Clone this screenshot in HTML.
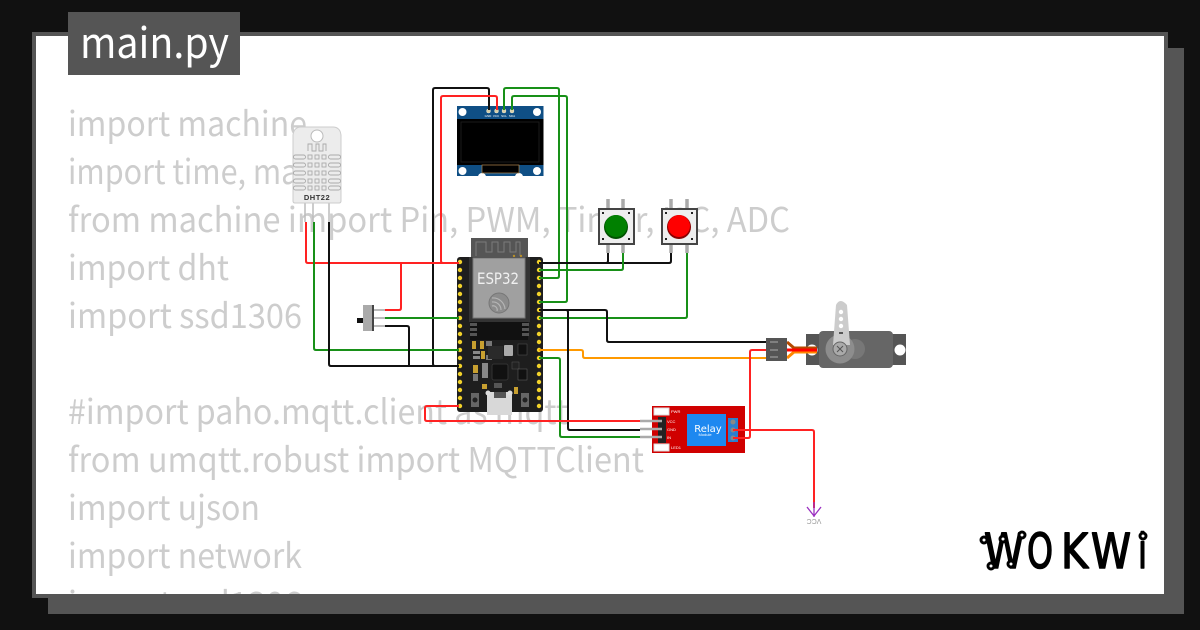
<!DOCTYPE html>
<html><head><meta charset="utf-8"><style>
html,body{margin:0;padding:0;background:#111;width:1200px;height:630px;overflow:hidden}
svg{display:block}
.c{font-family:"Noto Sans CJK JP","Liberation Sans",sans-serif;font-size:34px;fill:#cdcdcd}
.w{fill:none;stroke-width:2;stroke-linejoin:round}
</style></head><body>
<svg width="1200" height="630" viewBox="0 0 1200 630" xmlns="http://www.w3.org/2000/svg">
<defs><clipPath id="clip"><rect x="36" y="36" width="1128" height="558"/></clipPath></defs>
<rect width="1200" height="630" fill="#111"/>
<rect x="48" y="48" width="1136" height="566" fill="#555"/>
<rect x="32" y="32" width="1136" height="566" fill="#555"/>
<rect x="36" y="36" width="1128" height="558" fill="#fff"/>
<rect x="68" y="12" width="172" height="63" fill="#555"/>
<text x="80" y="58" font-family="'Noto Sans CJK JP','Liberation Sans',sans-serif" font-size="42" fill="#fff" textLength="149" lengthAdjust="spacingAndGlyphs">main.py</text>
<g clip-path="url(#clip)" class="c">
<text class="c" x="68" y="136" textLength="239" lengthAdjust="spacingAndGlyphs">import machine</text>
<text class="c" x="68" y="184" textLength="260" lengthAdjust="spacingAndGlyphs">import time, math</text>
<text class="c" x="68" y="232" textLength="722" lengthAdjust="spacingAndGlyphs">from machine import Pin, PWM, Timer, I2C, ADC</text>
<text class="c" x="68" y="280" textLength="161" lengthAdjust="spacingAndGlyphs">import dht</text>
<text class="c" x="68" y="328" textLength="234" lengthAdjust="spacingAndGlyphs">import ssd1306</text>
<text class="c" x="68" y="424" textLength="500" lengthAdjust="spacingAndGlyphs">#import paho.mqtt.client as mqtt</text>
<text class="c" x="68" y="472" textLength="576" lengthAdjust="spacingAndGlyphs">from umqtt.robust import MQTTClient</text>
<text class="c" x="68" y="520" textLength="192" lengthAdjust="spacingAndGlyphs">import ujson</text>
<text class="c" x="68" y="568" textLength="234" lengthAdjust="spacingAndGlyphs">import network</text>
<text class="c" x="68" y="616" textLength="234" lengthAdjust="spacingAndGlyphs">import ssd1306</text>
</g>

<!-- DHT22 -->
<g>
<path d="M305 203v19M313 203v19M329 203v19" stroke="#bbb" stroke-width="1.500" fill="none"/>
<path d="M301 127h32q7 0 8 8v66q0 2-2 2h-44q-2 0-2-2v-66q1-8 8-8z" fill="#ececec" stroke="#ccc"/>
<circle cx="317" cy="136" r="6" fill="#fff" stroke="#bbb"/>
<g fill="none" stroke="#aaa" stroke-width=".9">
<path d="M308 151v-7h4v7h4v-7h3v7h4v-7h3v7"/>
<rect x="293.500" y="155" width="12" height="4" rx="2"/><rect x="293.500" y="163" width="12" height="4" rx="2"/><rect x="293.500" y="171" width="12" height="4" rx="2"/><rect x="293.500" y="179" width="12" height="4" rx="2"/><rect x="293.500" y="186" width="12" height="4" rx="2"/>
<rect x="328.500" y="155" width="12" height="4" rx="2"/><rect x="328.500" y="163" width="12" height="4" rx="2"/><rect x="328.500" y="171" width="12" height="4" rx="2"/><rect x="328.500" y="179" width="12" height="4" rx="2"/><rect x="328.500" y="186" width="12" height="4" rx="2"/>
<rect x="308" y="155" width="4" height="4"/><rect x="315" y="155" width="4" height="4"/><rect x="322" y="155" width="4" height="4"/>
<rect x="308" y="163" width="4" height="4"/><rect x="315" y="163" width="4" height="4"/><rect x="322" y="163" width="4" height="4"/>
<rect x="308" y="171" width="4" height="4"/><rect x="315" y="171" width="4" height="4"/><rect x="322" y="171" width="4" height="4"/>
<rect x="308" y="179" width="4" height="4"/><rect x="315" y="179" width="4" height="4"/><rect x="322" y="179" width="4" height="4"/>
<rect x="308" y="186" width="4" height="4"/><rect x="315" y="186" width="4" height="4"/><rect x="322" y="186" width="4" height="4"/>
</g>
<text x="317" y="200" font-family="'Liberation Sans',sans-serif" font-size="7.500" font-weight="bold" fill="#333" text-anchor="middle" letter-spacing=".5">DHT22</text>
</g>

<!-- OLED -->
<g>
<rect x="457" y="106" width="86.500" height="70" fill="#0f4f85"/>
<rect x="457" y="119" width="86.500" height="46" fill="#000"/>
<rect x="461" y="122" width="78" height="40" fill="none" stroke="#1a1a1a"/>
<circle cx="482" cy="177" r="4" fill="#fff"/><circle cx="519" cy="177" r="4" fill="#fff"/>
<rect x="482" y="165" width="37" height="8" fill="#000" stroke="#b58a50" stroke-width=".7"/>
<circle cx="462.500" cy="112" r="4" fill="#fff"/><circle cx="537" cy="112" r="4" fill="#fff"/>
<circle cx="462.500" cy="171" r="4" fill="#fff"/><circle cx="537" cy="171" r="4" fill="#fff"/>
<g fill="#d8cfa8" stroke="#e8e4cc" stroke-width=".5"><circle cx="488.500" cy="111" r="2"/><circle cx="496.500" cy="111" r="2"/><circle cx="504" cy="111" r="2"/><circle cx="512" cy="111" r="2"/></g>
<g font-family="'Liberation Sans',sans-serif" font-size="3" fill="#fff" text-anchor="middle"><text x="488" y="117">GND</text><text x="496" y="117">VCC</text><text x="504" y="117">SCL</text><text x="512" y="117">SDA</text></g>
<rect x="457" y="176" width="87" height="3" fill="#fff"/>
</g>

<!-- ESP32 -->
<g>
<rect x="457" y="257" width="86" height="155" rx="3" fill="#1e1e1e"/>
<rect x="471" y="238" width="57" height="19" fill="#555"/>
<path d="M476 256v-14h10v10h6v-10h6v10h6v-10h6v10h6v-10h4v14" fill="none" stroke="#7a7a7a" stroke-width="1"/>
<circle cx="514" cy="256" r="1.200" fill="#b8902a"/><circle cx="521" cy="256" r="1.200" fill="#b8902a"/>
<rect x="469" y="257" width="61" height="65" fill="#333"/>
<rect x="473" y="258" width="52" height="60" fill="#a0a0a0" stroke="#777"/>
<text x="498" y="284" font-family="'DejaVu Sans',sans-serif" font-size="16" fill="#f0f0f0" text-anchor="middle" textLength="42" lengthAdjust="spacingAndGlyphs">ESP32</text>
<circle cx="499" cy="303" r="10" fill="#8c8c8c" stroke="#777"/>
<path d="M492 298a12 12 0 0 1 13 11M492 302a8 8 0 0 1 9 8M492 306a4 4 0 0 1 5 5" fill="none" stroke="#b5b5b5" stroke-width="1.200"/>
<rect x="470" y="322" width="58" height="18" fill="#111"/>
<path d="M470 323h7v3h-7zM470 328h7v3h-7zM470 333h7v3h-7zM522 323h7v3h-7zM522 328h7v3h-7zM522 333h7v3h-7z" fill="#555"/>
<rect x="472" y="341" width="4" height="8" fill="#c8a030"/><rect x="480" y="341" width="4" height="8" fill="#c8a030"/>
<rect x="473" y="351" width="7" height="3" fill="#888"/><rect x="473" y="356" width="7" height="3" fill="#888"/>
<rect x="481" y="351" width="4" height="8" fill="#c8a030"/>
<rect x="486" y="341" width="6" height="5" fill="#777"/><rect x="486" y="355" width="6" height="5" fill="#777"/>
<rect x="488" y="346" width="15" height="13" fill="#2a2a2a"/>
<rect x="504" y="345" width="9" height="11" rx="1" fill="#aaa"/>
<rect x="518" y="344" width="9" height="11" fill="#111" stroke="#555" stroke-width=".5"/>
<rect x="492" y="364" width="16" height="16" rx="2" fill="#111" stroke="#333"/>
<rect x="473" y="365" width="5" height="8" fill="#c8a030"/><rect x="473" y="374" width="5" height="7" fill="#777"/>
<rect x="482" y="363" width="6" height="15" fill="#888"/>
<rect x="512" y="362" width="7" height="7" fill="#222" stroke="#555" stroke-width=".5"/>
<rect x="518" y="369" width="9" height="11" fill="#111" stroke="#666" stroke-width=".5"/>
<rect x="494" y="383" width="8" height="5" fill="#555"/>
<rect x="482" y="384" width="5" height="5" fill="#c8a030"/><rect x="514" y="387" width="4" height="7" fill="#c8a030"/>
<rect x="471" y="393" width="8" height="14" fill="#666"/><circle cx="475" cy="400" r="2.500" fill="#222"/>
<rect x="521" y="393" width="8" height="14" fill="#666"/><circle cx="525" cy="400" r="2.500" fill="#222"/>
<rect x="487" y="392" width="25" height="23" fill="#d8d8d8"/><rect x="494" y="392" width="12" height="6" fill="#555"/>
<circle cx="488" cy="393" r="2.500" fill="#ddd"/><circle cx="510" cy="393" r="2.500" fill="#ddd"/>
<g fill="#f2d22a">
<circle cx="460" cy="262" r="2.200"/><circle cx="460" cy="270" r="2.200"/><circle cx="460" cy="278" r="2.200"/><circle cx="460" cy="286" r="2.200"/><circle cx="460" cy="294" r="2.200"/><circle cx="460" cy="302" r="2.200"/><circle cx="460" cy="310" r="2.200"/><circle cx="460" cy="318" r="2.200"/><circle cx="460" cy="326" r="2.200"/><circle cx="460" cy="334" r="2.200"/><circle cx="460" cy="342" r="2.200"/><circle cx="460" cy="350" r="2.200"/><circle cx="460" cy="358" r="2.200"/><circle cx="460" cy="366" r="2.200"/><circle cx="460" cy="374" r="2.200"/><circle cx="460" cy="382" r="2.200"/><circle cx="460" cy="390" r="2.200"/><circle cx="460" cy="398" r="2.200"/><circle cx="460" cy="406" r="2.200"/>
<circle cx="539" cy="262" r="2.200"/><circle cx="539" cy="270" r="2.200"/><circle cx="539" cy="278" r="2.200"/><circle cx="539" cy="286" r="2.200"/><circle cx="539" cy="294" r="2.200"/><circle cx="539" cy="302" r="2.200"/><circle cx="539" cy="310" r="2.200"/><circle cx="539" cy="318" r="2.200"/><circle cx="539" cy="326" r="2.200"/><circle cx="539" cy="334" r="2.200"/><circle cx="539" cy="342" r="2.200"/><circle cx="539" cy="350" r="2.200"/><circle cx="539" cy="358" r="2.200"/><circle cx="539" cy="366" r="2.200"/><circle cx="539" cy="374" r="2.200"/><circle cx="539" cy="382" r="2.200"/><circle cx="539" cy="390" r="2.200"/><circle cx="539" cy="398" r="2.200"/><circle cx="539" cy="406" r="2.200"/>
</g>
</g>

<!-- Slide switch -->
<g>
<rect x="357" y="318" width="6" height="5" fill="#111"/>
<rect x="363" y="305" width="9" height="26" fill="#aaa"/>
<rect x="372" y="305" width="2" height="26" fill="#444"/>
<path d="M374 310h11M374 318h11M374 326h11" stroke="#bbb" stroke-width="2"/>
</g>

<!-- Buttons -->
<g>
<path d="M608 199v9M623 199v9M608 244v9M623 244v9M671 199v9M687 199v9M671 244v9M687 244v9" stroke="#aaa" stroke-width="3.500"/>
<rect x="599" y="209" width="35" height="35" fill="#eee" stroke="#444" stroke-width="2"/>
<rect x="662" y="209" width="35" height="35" fill="#eee" stroke="#444" stroke-width="2"/>
<circle cx="616" cy="227" r="12" fill="#005300"/><circle cx="616" cy="226" r="11" fill="#008000"/>
<circle cx="679" cy="227" r="12" fill="#8a0000"/><circle cx="679" cy="226" r="11" fill="#ff0000"/>
<g fill="#222"><rect x="602" y="212" width="2" height="2"/><rect x="628" y="212" width="2" height="2"/><rect x="602" y="238" width="2" height="2"/><rect x="628" y="238" width="2" height="2"/><rect x="665" y="212" width="2" height="2"/><rect x="691" y="212" width="2" height="2"/><rect x="665" y="238" width="2" height="2"/><rect x="691" y="238" width="2" height="2"/></g>
</g>

<!-- Servo -->
<g>
<rect x="806" y="334" width="100" height="31" fill="#555"/>
<rect x="819" y="331" width="74" height="37" rx="4" fill="#666"/>
<circle cx="812" cy="350" r="5.500" fill="#fff"/><circle cx="900" cy="350" r="5.500" fill="#fff"/>
<circle cx="855" cy="349" r="10" fill="#777"/>
<circle cx="840" cy="349" r="14.500" fill="#8d8d8d"/>
<path d="M836 305q4-8 11 0l3 40h-17z" fill="#ccc"/>
<circle cx="841" cy="312" r="2.200" fill="#fff"/><circle cx="841" cy="319" r="2.200" fill="#fff"/><circle cx="841" cy="326" r="2.200" fill="#fff"/><rect x="839" y="332" width="4" height="2" fill="#555"/>
<circle cx="840" cy="349" r="7" fill="#aaa" stroke="#666"/>
<path d="M837 346l6 6M843 346l-6 6" stroke="#555"/>
<path d="M787 342l7 6h23" stroke="#b54a00" stroke-width="3" fill="none"/>
<path d="M787 358l7-6h23" stroke="#f80" stroke-width="3" fill="none"/>
<path d="M787 350h30" stroke="#f00" stroke-width="3" fill="none"/>
</g>

<!-- Relay -->
<g>
<rect x="652" y="406" width="93" height="47" fill="#d00000"/>
<rect x="654" y="408" width="15" height="7" fill="#fff" stroke="#ddd"/>
<rect x="654" y="444" width="15" height="7" fill="#fff" stroke="#ddd"/>
<rect x="658" y="417" width="8" height="26" fill="#222"/>
<rect x="687" y="414" width="39" height="32" fill="#1e88f0"/>
<text x="708" y="432" font-family="'DejaVu Sans',sans-serif" font-size="10" fill="#fff" text-anchor="middle">Relay</text>
<text x="705" y="436" font-family="'Liberation Sans',sans-serif" font-size="4" fill="#fff" text-anchor="middle">Module</text>
<rect x="728" y="418" width="10" height="24" fill="#2a7fd0"/>
<circle cx="733" cy="422" r="2.500" fill="#888"/><circle cx="733" cy="430" r="2.500" fill="#888"/><circle cx="733" cy="438" r="2.500" fill="#888"/>
<g font-family="'Liberation Sans',sans-serif" font-size="4" fill="#fff"><text x="671" y="413">PWR</text><text x="667" y="423">VCC</text><text x="667" y="431">GND</text><text x="667" y="439">IN</text><text x="671" y="449">LED1</text></g>
</g>

<!-- Wires -->
<g class="w">
<path stroke="#111" d="M489 110V90q0-2-2-2H435q-2 0-2 2V364q0 2 2 2h24"/>
<path stroke="#f22" d="M497 110V98q0-2-2-2H443q-2 0-2 2V261q0 2 2 2h16"/>
<path stroke="#189018" d="M504 110V90q0-2 2-2h51q2 0 2 2V276q0 2-2 2h-18"/>
<path stroke="#189018" d="M512 110V98q0-2 2-2h51q2 0 2 2V300q0 2-2 2h-26"/>
<path stroke="#f22" d="M306 222V261q0 2 2 2h151"/>
<path stroke="#f22" d="M401 263V308q0 2-2 2h-14"/>
<path stroke="#189018" d="M314 222V348q0 2 2 2h143"/>
<path stroke="#111" d="M329 222V364q0 2 2 2h128"/>
<path stroke="#189018" d="M385 318h74"/>
<path stroke="#111" d="M385 326h22q2 0 2 2v38"/>
<path stroke="#111" d="M539 263h130q2 0 2-2v-8"/>
<path stroke="#111" d="M600 263h6q2 0 2-2v-8"/>
<path stroke="#189018" d="M539 270h82q2 0 2-2v-15"/>
<path stroke="#189018" d="M539 318h146q2 0 2-2v-63"/>
<path stroke="#111" d="M539 310h66q2 0 2 2v28q0 2 2 2h157"/>
<path stroke="#f90" d="M539 350h42q2 0 2 2v4q0 2 2 2h181"/>
<path stroke="#f22" d="M766 350h-14q-2 0-2 2v84q0 2-2 2h-15"/>
<path stroke="#111" d="M539 310h27q2 0 2 2v116q0 2 2 2h70"/>
<path stroke="#189018" d="M539 358h19q2 0 2 2v75q0 2 2 2h78"/>
<path stroke="#f22" d="M459 406h-32q-2 0-2 2v11q0 2 2 2h213"/>
<path stroke="#f22" d="M733 430h79q2 0 2 2v76"/>
</g>
<!-- parts drawn over wires -->
<path d="M640 421h22M640 429h22M640 437h22" stroke="#aaa" stroke-width="2.500"/>
<rect x="766" y="338" width="21" height="23" fill="#555"/>
<path d="M770 342h8M770 350h8M770 357h8" stroke="#aaa" stroke-width="1"/>
<!-- VCC -->
<path d="M814 502v15M807 507l7 9 7-9" fill="none" stroke="#9a2fc0" stroke-width="1.300"/>
<text transform="translate(814 519) rotate(180)" font-family="'Liberation Sans',sans-serif" font-size="7" fill="#999" text-anchor="middle">VCC</text>

<!-- Logo -->
<g font-family="'DejaVu Sans',sans-serif" font-size="48" fill="#000" stroke="#000" stroke-width="1.600" stroke-linejoin="round">
<text x="984" y="568" textLength="40" lengthAdjust="spacingAndGlyphs">W</text>
<text x="1027" y="568" textLength="26" lengthAdjust="spacingAndGlyphs">O</text>
<text x="1061" y="568" textLength="27" lengthAdjust="spacingAndGlyphs">K</text>
<text x="1091" y="568" textLength="40" lengthAdjust="spacingAndGlyphs">W</text>
<text x="1138" y="568" textLength="9" lengthAdjust="spacingAndGlyphs">i</text>
<g fill="#fff" stroke="#000" stroke-width="3"><circle cx="984" cy="540" r="3"/><circle cx="1003" cy="539" r="3"/><circle cx="1022" cy="535" r="3"/><circle cx="991" cy="566" r="3"/><circle cx="1011" cy="564" r="3"/><circle cx="1143" cy="536" r="3"/></g>
</g>
</svg>
</body></html>
